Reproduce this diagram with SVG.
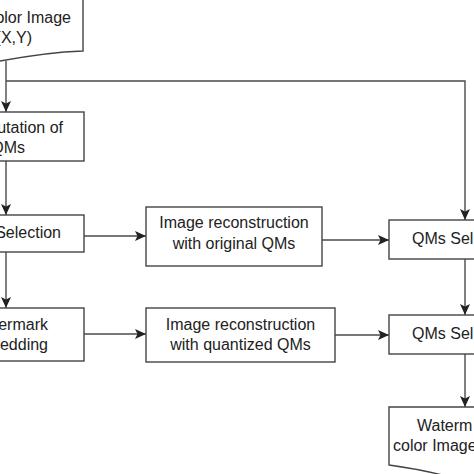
<svg xmlns="http://www.w3.org/2000/svg" width="474" height="474" viewBox="0 0 474 474">
<defs>
<style>
.box{fill:#fff;stroke:#444;stroke-width:1.4}
.ln{fill:none;stroke:#4a4a4a;stroke-width:1.4}
.t{font-family:"Liberation Sans",Arial,sans-serif;font-size:16px;fill:#222}
.m{text-anchor:middle}
.e{text-anchor:end}
</style>
<marker id="ah" markerUnits="userSpaceOnUse" markerWidth="12" markerHeight="10" refX="11" refY="5" orient="auto">
<path d="M0,0 L11,5 L0,10 L2.5,5 Z" fill="#222"/>
</marker>
</defs>
<rect width="474" height="474" fill="#fff"/>
<g id="connectors">
<line class="ln" x1="6" y1="61" x2="6" y2="112" marker-end="url(#ah)"/>
<polyline class="ln" points="6,81 465,81 465,220" marker-end="url(#ah)"/>
<line class="ln" x1="6" y1="161" x2="6" y2="215" marker-end="url(#ah)"/>
<line class="ln" x1="6" y1="252" x2="6" y2="308" marker-end="url(#ah)"/>
<line class="ln" x1="84" y1="236" x2="146" y2="236" marker-end="url(#ah)"/>
<line class="ln" x1="84" y1="334" x2="146" y2="334" marker-end="url(#ah)"/>
<line class="ln" x1="322" y1="240" x2="389" y2="240" marker-end="url(#ah)"/>
<line class="ln" x1="335" y1="335" x2="389" y2="335" marker-end="url(#ah)"/>
<line class="ln" x1="465" y1="259" x2="465" y2="315" marker-end="url(#ah)"/>
<line class="ln" x1="465" y1="354" x2="465" y2="407" marker-end="url(#ah)"/>
</g>
<g id="input">
<path class="box" d="M-90,-10 L83,-10 L83,51 C55,52 25,56 -10,63 L-90,63 Z"/>
<text class="t e" x="71" y="23">olor Image</text>
<text class="t e" x="32" y="43">(X,Y)</text>
</g>
<g id="permutation">
<rect class="box" x="-80" y="112" width="164" height="49"/>
<text class="t e" x="63" y="133">utation of</text>
<text class="t e" x="25" y="153">QMs</text>
</g>
<g id="selection">
<rect class="box" x="-80" y="215" width="164" height="37"/>
<text class="t e" x="61" y="238">Selection</text>
</g>
<g id="embedding">
<rect class="box" x="-80" y="308" width="164" height="53"/>
<text class="t e" x="48" y="330">ermark</text>
<text class="t e" x="48" y="350">edding</text>
</g>
<g id="recon-original">
<rect class="box" x="146" y="207" width="176" height="59"/>
<text class="t m" x="234" y="228">Image reconstruction</text>
<text class="t m" x="234" y="249">with original QMs</text>
</g>
<g id="recon-quantized">
<rect class="box" x="146" y="308" width="189" height="54"/>
<text class="t m" x="240.5" y="330">Image reconstruction</text>
<text class="t m" x="240.5" y="350">with quantized QMs</text>
</g>
<g id="qms-sel-1">
<rect class="box" x="389" y="220" width="160" height="39"/>
<text class="t" x="412" y="244">QMs Sel</text>
</g>
<g id="qms-sel-2">
<rect class="box" x="389" y="315" width="160" height="39"/>
<text class="t" x="412" y="339">QMs Sel</text>
</g>
<g id="output">
<path class="box" d="M389,407 L490,407 L490,490 C460,478 425,470 389,465 Z"/>
<text class="t" x="417" y="431">Waterm</text>
<text class="t" x="393" y="451">color Image</text>
</g>
</svg>
